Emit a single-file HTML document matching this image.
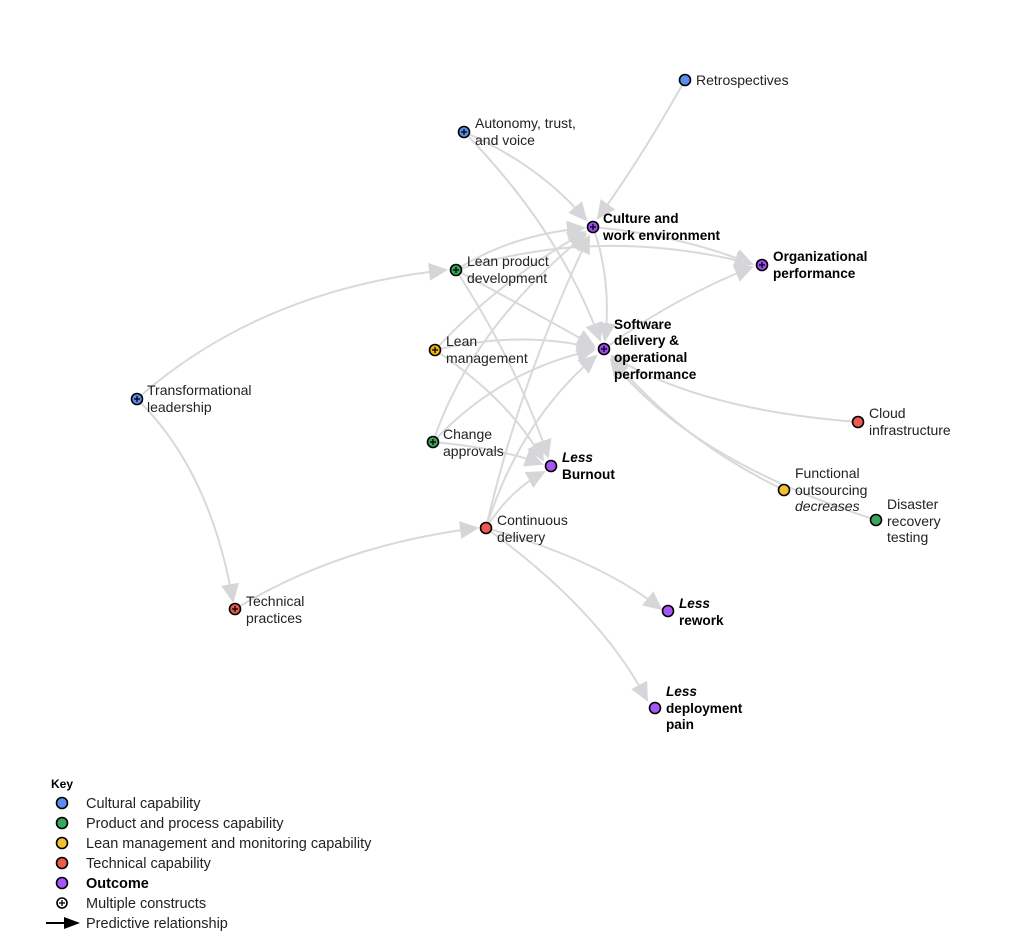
<!DOCTYPE html>
<html><head><meta charset="utf-8"><style>
html,body{margin:0;padding:0;background:#fff}
svg{display:block}
text{font-family:"Liberation Sans",sans-serif;font-size:14px;fill:#222}
.b{font-weight:bold;fill:#000;font-size:13.6px}
.l{font-size:14.5px}
</style></head><body>
<svg width="1011" height="946" viewBox="0 0 1011 946" xmlns="http://www.w3.org/2000/svg">
<defs>
<marker id="a" markerUnits="userSpaceOnUse" markerWidth="22" markerHeight="22" refX="17" refY="9" orient="auto"><path d="M0,0 L19,9 L0,18 Z" fill="#d6d6d8"/></marker>
<marker id="k" markerUnits="userSpaceOnUse" markerWidth="20" markerHeight="14" refX="14" refY="6" orient="auto"><path d="M0,0 L16,6 L0,12 Z" fill="#000"/></marker>
<g id="p"><line x1="-3" y1="0" x2="3" y2="0" stroke="#000" stroke-width="1.3"/><line x1="0" y1="-3" x2="0" y2="3" stroke="#000" stroke-width="1.3"/></g>
</defs>
<g fill="none" stroke="#d9d9db" stroke-width="2" marker-end="url(#a)">
<path d="M685,80 Q640,160 598,218"/>
<path d="M464,132 Q540,165 586,220"/>
<path d="M464,132 Q560,230 600,340"/>
<path d="M456,270 Q510,235 584,228"/>
<path d="M456,270 Q530,310 594,346"/>
<path d="M456,270 Q600,225 752,264"/>
<path d="M456,270 Q520,370 548,457"/>
<path d="M435,350 Q500,280 585,232"/>
<path d="M435,350 Q520,330 594,348"/>
<path d="M435,350 Q510,400 543,460"/>
<path d="M433,442 Q470,330 586,234"/>
<path d="M433,442 Q500,370 594,350"/>
<path d="M433,442 Q500,448 542,464"/>
<path d="M593,227 Q612,280 605,340"/>
<path d="M593,227 Q680,235 752,264"/>
<path d="M604,349 Q670,300 752,267"/>
<path d="M137,399 Q260,290 446,270"/>
<path d="M137,399 Q210,470 233,601"/>
<path d="M235,609 Q340,545 477,528"/>
<path d="M486,528 Q520,380 589,236"/>
<path d="M486,528 Q520,420 596,356"/>
<path d="M486,528 Q510,490 544,472"/>
<path d="M486,528 Q600,560 661,609"/>
<path d="M486,528 Q600,610 647,700"/>
<path d="M858,422 Q700,410 612,356"/>
<path d="M784,490 Q680,440 612,358"/>
<path d="M876,520 Q690,460 611,360"/>
</g>
<g stroke="#000" stroke-width="1.6">
<circle cx="685" cy="80" r="5.5" fill="#5b8def"/>
<circle cx="464" cy="132" r="5.5" fill="#5b8def"/>
<circle cx="593" cy="227" r="5.5" fill="#9b4cf0"/>
<circle cx="762" cy="265" r="5.5" fill="#9b4cf0"/>
<circle cx="456" cy="270" r="5.5" fill="#3aa55d"/>
<circle cx="604" cy="349" r="5.5" fill="#9b4cf0"/>
<circle cx="435" cy="350" r="5.5" fill="#f4b400"/>
<circle cx="137" cy="399" r="5.5" fill="#5b8def"/>
<circle cx="858" cy="422" r="5.5" fill="#ea5a4f"/>
<circle cx="433" cy="442" r="5.5" fill="#3aa55d"/>
<circle cx="551" cy="466" r="5.5" fill="#a855f7"/>
<circle cx="784" cy="490" r="5.5" fill="#f4c030"/>
<circle cx="876" cy="520" r="5.5" fill="#3aa55d"/>
<circle cx="486" cy="528" r="5.5" fill="#ea5a4f"/>
<circle cx="235" cy="609" r="5.5" fill="#ea5a4f"/>
<circle cx="668" cy="611" r="5.5" fill="#a855f7"/>
<circle cx="655" cy="708" r="5.5" fill="#a855f7"/>
</g>
<use href="#p" x="464" y="132"/><use href="#p" x="593" y="227"/><use href="#p" x="762" y="265"/><use href="#p" x="456" y="270"/><use href="#p" x="604" y="349"/><use href="#p" x="435" y="350"/><use href="#p" x="137" y="399"/><use href="#p" x="433" y="442"/><use href="#p" x="235" y="609"/>
<text x="696" y="85">Retrospectives</text>
<text x="475" y="128">Autonomy, trust,</text><text x="475" y="145">and voice</text>
<text class="b" x="603" y="223">Culture and</text><text class="b" x="603" y="240">work environment</text>
<text class="b" x="773" y="261">Organizational</text><text class="b" x="773" y="278">performance</text>
<text x="467" y="266">Lean product</text><text x="467" y="283">development</text>
<text class="b" x="614" y="329">Software</text><text class="b" x="614" y="345">delivery &amp;</text><text class="b" x="614" y="362">operational</text><text class="b" x="614" y="379">performance</text>
<text x="446" y="346">Lean</text><text x="446" y="363">management</text>
<text x="147" y="395">Transformational</text><text x="147" y="412">leadership</text>
<text x="869" y="418">Cloud</text><text x="869" y="435">infrastructure</text>
<text x="443" y="439">Change</text><text x="443" y="456">approvals</text>
<text class="b" x="562" y="462" font-style="italic">Less</text><text class="b" x="562" y="479">Burnout</text>
<text x="795" y="478">Functional</text><text x="795" y="495">outsourcing</text><text x="795" y="511" font-style="italic">decreases</text>
<text x="887" y="509">Disaster</text><text x="887" y="526">recovery</text><text x="887" y="542">testing</text>
<text x="497" y="525">Continuous</text><text x="497" y="542">delivery</text>
<text x="246" y="606">Technical</text><text x="246" y="623">practices</text>
<text class="b" x="679" y="608" font-style="italic">Less</text><text class="b" x="679" y="625">rework</text>
<text class="b" x="666" y="696" font-style="italic">Less</text><text class="b" x="666" y="713">deployment</text><text class="b" x="666" y="729">pain</text>
<text class="b" x="51" y="788" style="font-size:12px">Key</text>
<g stroke="#000" stroke-width="1.6">
<circle cx="62" cy="803" r="5.5" fill="#5b8def"/>
<circle cx="62" cy="823" r="5.5" fill="#3aa55d"/>
<circle cx="62" cy="843" r="5.5" fill="#f4c030"/>
<circle cx="62" cy="863" r="5.5" fill="#ea5a4f"/>
<circle cx="62" cy="883" r="5.5" fill="#a855f7"/>
<circle cx="62" cy="903" r="5" fill="#fff"/>
</g>
<use href="#p" x="62" y="903"/>
<line x1="46" y1="923" x2="78" y2="923" stroke="#000" stroke-width="2" marker-end="url(#k)"/>
<text class="l" x="86" y="808">Cultural capability</text>
<text class="l" x="86" y="828">Product and process capability</text>
<text class="l" x="86" y="848">Lean management and monitoring capability</text>
<text class="l" x="86" y="868">Technical capability</text>
<text class="b l" x="86" y="888">Outcome</text>
<text class="l" x="86" y="908">Multiple constructs</text>
<text class="l" x="86" y="928">Predictive relationship</text>
</svg>
</body></html>
